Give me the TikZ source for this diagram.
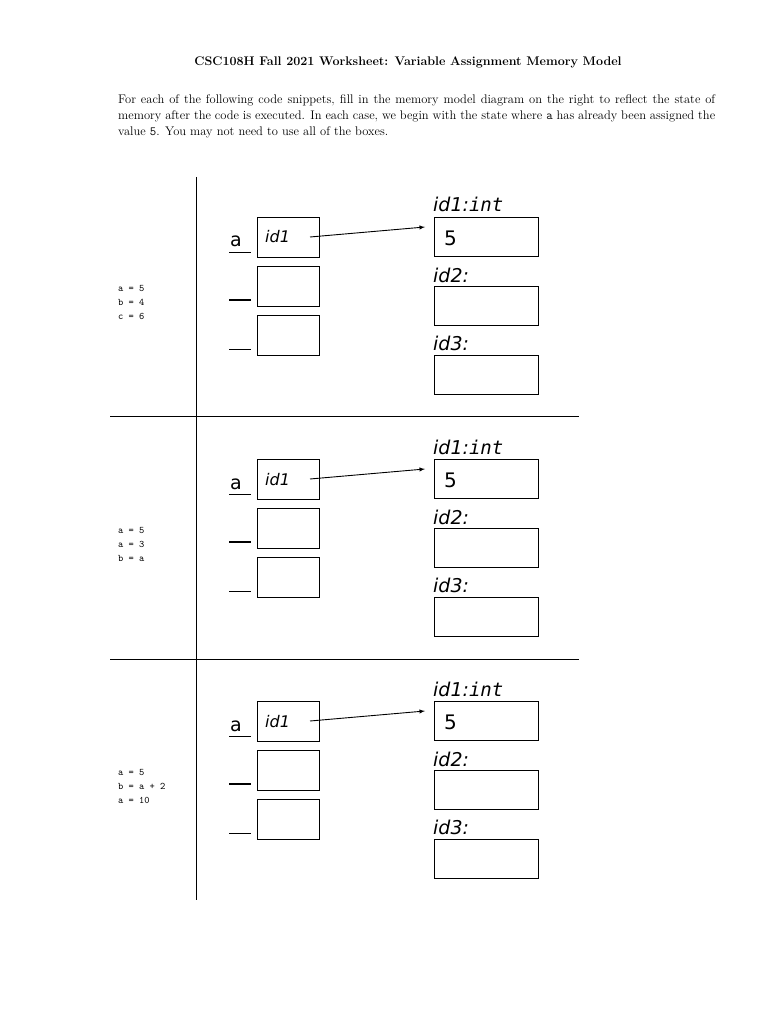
\documentclass[tikz,border=0pt]{standalone}
\usepackage{fontspec}
\newfontfamily\dv{DejaVu Sans}
\newfontfamily\dvm{DejaVu Sans Mono}
\begin{document}
\begin{tikzpicture}[x=1pt,y=-1pt,
  box/.style={draw,line width=0.9pt},
  dvl/.style={font=\dv\fontsize{19}{22}\selectfont,inner sep=0pt,anchor=base west},
  code/.style={font=\ttfamily\fontsize{10}{14}\selectfont,align=left,anchor=west,inner sep=0pt}]
\useasboundingbox (0,0) rectangle (768,1024);
\node[font=\bfseries\fontsize{12.5}{15}\selectfont] (title) at (408,62) {CSC108H Fall 2021 Worksheet: Variable Assignment Memory Model};
\node[anchor=north west,text width=597pt,align=justify,inner sep=0pt,font=\fontsize{12.5}{16}\selectfont] (intro) at (118,95) {For each of the following code snippets, fill in the memory model diagram on the right to reflect the state of memory after the code is executed. In each case, we begin with the state where \texttt{a} has already been assigned the value \texttt{5}. You may not need to use all of the boxes.};
\draw[line width=0.9pt] (196,177) -- (196,900);
\draw[line width=0.9pt] (110,416) -- (579,416);
\draw[line width=0.9pt] (110,659) -- (579,659);
\foreach \o/\c [count=\i] in {0/{a = 5\\b = 4\\c = 6}, 242/{a = 5\\a = 3\\b = a}, 484/{a = 5\\b = a + 2\\a = 10}}{
  \begin{scope}[yshift=-\o pt]
  \node[code] (code\i) at (118,302) {\c};
  \draw[box] (257,217) rectangle (319,257);
  \draw[box] (257,266) rectangle (319,306);
  \draw[box] (257,315) rectangle (319,355);
  \node[dvl] (a\i) at (230,247) {a};
  \draw[line width=0.9pt] (229,252) -- (251,252);
  \draw[line width=1.2pt] (229,300) -- (251,300);
  \draw[line width=0.6pt] (229,349) -- (251,349);
  \node[dvl,font=\dv\itshape\fontsize{16}{20}\selectfont] (v\i) at (265,243) {id1};
  \draw[box] (434,217) rectangle (538,256);
  \draw[box] (434,286) rectangle (538,325);
  \draw[box] (434,355) rectangle (538,394);
  \node[dvl] (h1\i) at (433,212) {\itshape id1:\dvm int};
  \node[dvl] (h2\i) at (433,282) {\itshape id2:};
  \node[dvl] (h3\i) at (433,350) {\itshape id3:};
  \node[dvl,font=\dv\fontsize{20}{24}\selectfont] (five\i) at (444,245) {5};
  \coordinate (s\i) at (310,237);
  \coordinate (t\i) at (425,227);
  \draw[line width=0.9pt,-latex] (s\i) -- (t\i);
  \end{scope}
}
\end{tikzpicture}
\end{document}
